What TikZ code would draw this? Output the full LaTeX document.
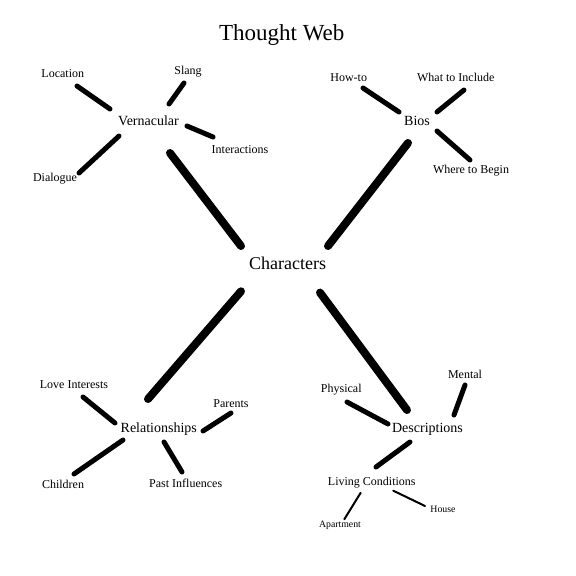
\documentclass[tikz,border=0pt]{standalone}
\usepackage{fontspec}
\setmainfont{Liberation Serif}

\begin{document}
\begin{tikzpicture}[
    x=1pt, y=-1pt,
    txt/.style={anchor=base, inner sep=0pt},
    headline/.style={txt, font=\fontsize{23}{26}\selectfont},
    hub/.style={txt, font=\fontsize{18}{20}\selectfont},
    topic/.style={txt, font=\fontsize{14}{16}\selectfont},
    leaf/.style={txt, font=\fontsize{12}{14}\selectfont},
    minor/.style={txt, font=\fontsize{9.8}{11}\selectfont},
    trunk/.style={line width=8pt, line cap=round},
    branch/.style={line width=5pt, line cap=round},
    twig/.style={line width=2pt, line cap=round},
]
\path[use as bounding box, fill=white] (0,0) rectangle (576,576);

% ---- Titel ----
\node[headline] (title) at (281.7,40) {Thought Web};

% ---- Mitte ----
\node[hub] (char) at (287.7,269.3) {Characters};

% ---- Vernacular ----
\node[topic] (vern) at (148.5,125) {Vernacular};
\node[leaf] (loc) at (62.8,77.7) {Location};
\node[leaf] (slang) at (188,74) {Slang};
\node[leaf] (inter) at (240,153.3) {Interactions};
\node[leaf] (dia) at (55,181.7) {Dialogue};

% ---- Bios ----
\node[topic] (bios) at (417,125) {Bios};
\node[leaf] (howto) at (348.7,81.7) {How-to};
\node[leaf] (incl) at (455.8,81.7) {What to Include};
\node[leaf] (begin) at (471,173.3) {Where to Begin};

% ---- Relationships ----
\node[topic] (rel) at (158.8,432.7) {Relationships};
\node[leaf] (love) at (74,388.3) {Love Interests};
\node[leaf] (par) at (231,407.3) {Parents};
\node[leaf] (kids) at (63,488.3) {Children};
\node[leaf] (past) at (185.7,487.3) {Past Influences};

% ---- Descriptions ----
\node[topic] (desc) at (427.5,432.7) {Descriptions};
\node[leaf] (phys) at (341.3,392.3) {Physical};
\node[leaf] (ment) at (465,378.3) {Mental};
\node[leaf] (live) at (371.8,485) {Living Conditions};
\node[minor] (apt) at (340,527.3) {Apartment};
\node[minor] (house) at (443,512.7) {House};

% ---- Linien ----
\draw[trunk] ([shift={(21.5,28)}]vern.base) -- ([shift={(-46.7,-23.3)}]char.base);
\draw[trunk] ([shift={(-9,18)}]bios.base) -- ([shift={(40.3,-23.3)}]char.base);
\draw[trunk] ([shift={(-46.7,22)}]char.base) -- ([shift={(-10.8,-33.7)}]rel.base);
\draw[trunk] ([shift={(32.3,23.3)}]char.base) -- ([shift={(-20.5,-22.7)}]desc.base);

\draw[branch] ([shift={(-38.5,-16)}]vern.base) -- ([shift={(14.2,8.3)}]loc.base);
\draw[branch] ([shift={(20.5,-21)}]vern.base) -- ([shift={(-4,9)}]slang.base);
\draw[branch] ([shift={(38.5,1)}]vern.base) -- ([shift={(-27,-16.3)}]inter.base);
\draw[branch] ([shift={(-29.5,11)}]vern.base) -- ([shift={(24,-8.7)}]dia.base);

\draw[branch] ([shift={(-18,-13)}]bios.base) -- ([shift={(14.3,6.3)}]howto.base);
\draw[branch] ([shift={(20,-13)}]bios.base) -- ([shift={(8.2,8.3)}]incl.base);
\draw[branch] ([shift={(20,6)}]bios.base) -- ([shift={(-1,-13.3)}]begin.base);

\draw[branch] ([shift={(-43.8,-9.7)}]rel.base) -- ([shift={(9,8.7)}]love.base);
\draw[branch] ([shift={(44.2,-1.7)}]rel.base) -- ([shift={(0,5.7)}]par.base);
\draw[branch] ([shift={(-35.8,7.3)}]rel.base) -- ([shift={(11,-14.3)}]kids.base);
\draw[branch] ([shift={(5.2,9.3)}]rel.base) -- ([shift={(-3.7,-15.3)}]past.base);

\draw[branch] ([shift={(-39.5,-8.7)}]desc.base) -- ([shift={(5.7,9.7)}]phys.base);
\draw[branch] ([shift={(26.5,-17.7)}]desc.base) -- ([shift={(0,6.7)}]ment.base);
\draw[branch] ([shift={(-17.5,9.3)}]desc.base) -- ([shift={(4.2,-18)}]live.base);

\draw[twig] ([shift={(-11.1,7.7)}]live.base) -- ([shift={(4.3,-8)}]apt.base);
\draw[twig] ([shift={(21.5,5.7)}]live.base) -- ([shift={(-18,-6.7)}]house.base);

\end{tikzpicture}
\end{document}
